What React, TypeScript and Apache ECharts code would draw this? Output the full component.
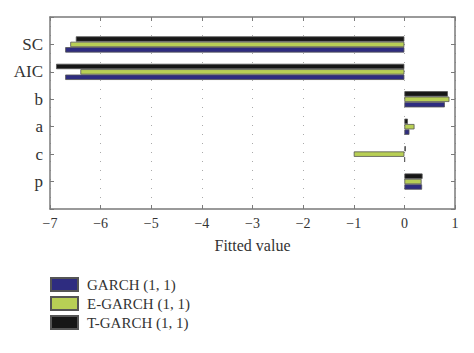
import React, { useEffect, useRef } from "react";
import * as echarts from "echarts";

const categories = ["", "p", "c", "a", "b", "AIC", "SC", ""];
const seriesNames = ["GARCH (1, 1)", "E-GARCH (1, 1)", "T-GARCH (1, 1)"];
const garch = [null, 0.35, 0.01, 0.1, 0.8, -6.7, -6.7, null];
const egarch = [null, 0.34, -1.0, 0.2, 0.89, -6.4, -6.6, null];
const tgarch = [null, 0.36, 0.03, 0.07, 0.86, -6.88, -6.49, null];
const colors = ["#2e2c80", "#b8cf55", "#161616"];
const xTicks = [-7, -6, -5, -4, -3, -2, -1, 0, 1];

export default function App() {
  const ref = useRef<HTMLDivElement>(null);
  useEffect(() => {
    if (!ref.current) return;
    const chart = echarts.init(ref.current, null, { renderer: "svg" });
    const font = "Liberation Serif";
    const axisColor = "#7a7a7a";
    const data = [garch, egarch, tgarch];
    // first declared series is drawn at the top of each band, so declare in reverse
    const order = [2, 1, 0];
    chart.setOption({
      animation: false,
      textStyle: { fontFamily: font, color: "#222" },
      grid: { left: 50, right: 19, top: 17, bottom: 144 },
      legend: {
        orient: "vertical",
        left: 50,
        top: 277,
        padding: 0,
        itemWidth: 27,
        itemHeight: 13,
        itemGap: 4,
        icon: "rect",
        data: seriesNames,
        textStyle: { fontFamily: font, fontSize: 15, color: "#333", padding: [0, 0, 0, 4] },
      },
      xAxis: [
        {
          type: "value",
          min: xTicks[0],
          max: xTicks[xTicks.length - 1],
          interval: 1,
          name: "Fitted value",
          nameLocation: "middle",
          nameGap: 28,
          nameTextStyle: { fontFamily: font, fontSize: 16, color: "#333" },
          axisLine: { show: true, lineStyle: { color: axisColor, width: 1.5 } },
          axisTick: { show: true, inside: true, length: 4, lineStyle: { color: axisColor } },
          axisLabel: {
            fontFamily: font,
            fontSize: 14,
            color: "#333",
            margin: 7,
            formatter: (v: number) => (v < 0 ? "\u2212" + Math.abs(v) : String(v)),
          },
          splitLine: { show: true, lineStyle: { color: "#aaa", type: [1, 8], width: 1 } },
        },
        {
          type: "value",
          position: "top",
          min: xTicks[0],
          max: xTicks[xTicks.length - 1],
          interval: 1,
          axisLine: { show: true, lineStyle: { color: axisColor, width: 1.5 } },
          axisTick: { show: true, inside: true, length: 4, lineStyle: { color: axisColor } },
          axisLabel: { show: false },
          splitLine: { show: false },
        },
      ],
      yAxis: [
        {
          type: "category",
          data: categories,
          boundaryGap: false,
          axisLine: { show: true, onZero: false, lineStyle: { color: axisColor, width: 1.5 } },
          axisTick: { show: true, inside: true, length: 4, lineStyle: { color: axisColor } },
          axisLabel: { fontFamily: font, fontSize: 17, color: "#333", margin: 7 },
          splitLine: { show: false },
        },
        {
          type: "category",
          data: categories,
          boundaryGap: false,
          position: "right",
          axisLine: { show: true, onZero: false, lineStyle: { color: axisColor, width: 1.5 } },
          axisTick: { show: true, inside: true, length: 4, lineStyle: { color: axisColor } },
          axisLabel: { show: false },
          splitLine: { show: false },
        },
      ],
      series: order.map((i) => ({
        name: seriesNames[i],
        type: "bar",
        xAxisIndex: 0,
        yAxisIndex: 0,
        data: data[i],
        barWidth: 5.4,
        barGap: "0%",
        itemStyle: { color: colors[i], borderColor: "#555", borderWidth: 0.8 },
      })),
    });
    return () => chart.dispose();
  }, []);
  return <div ref={ref} style={{ width: 474, height: 353, margin: -8 }} />;
}
